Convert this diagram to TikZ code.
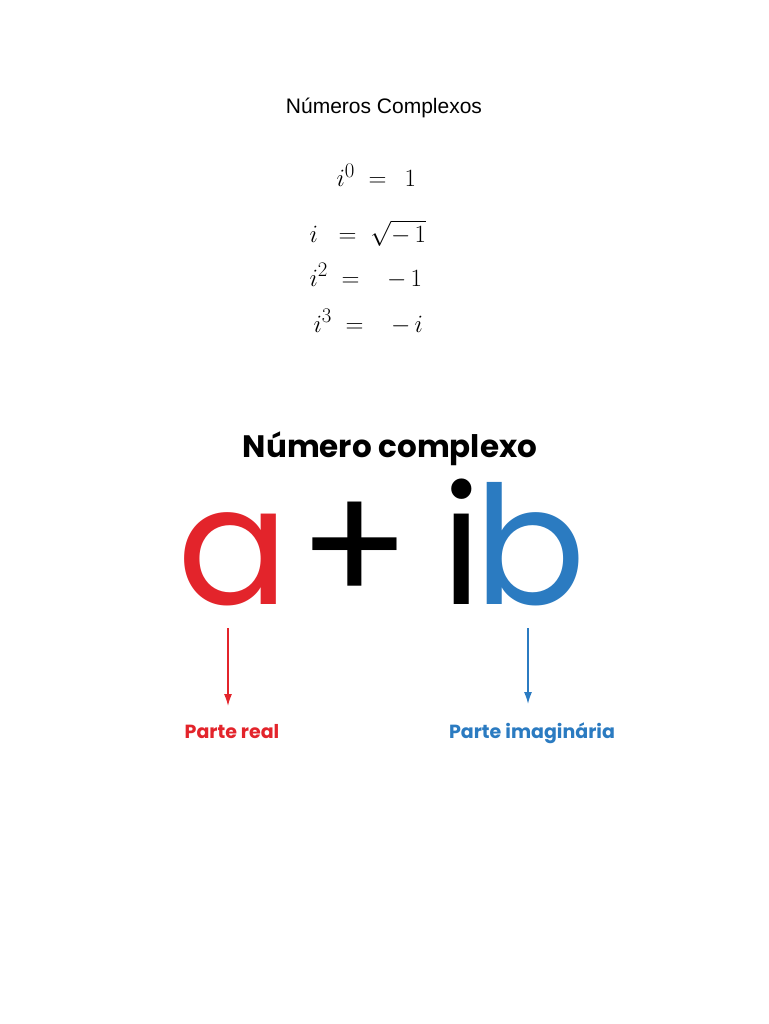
\documentclass[tikz,border=0pt]{standalone}
\usetikzlibrary{arrows.meta}
\usepackage{fontspec}
\setmainfont{Liberation Sans}
\newfontfamily\roundf{Poppins}
\usepackage{amsmath}
\definecolor{cred}{HTML}{E3242B}
\definecolor{cblue}{HTML}{2B7BC1}
\begin{document}
\begin{tikzpicture}[x=1pt,y=-1pt,
  eq/.style={anchor=base west,font=\fontsize{32}{36}\selectfont},
  big/.style={font=\roundf\fontsize{165}{165}\selectfont,anchor=base},
  lab/.style={font=\roundf\bfseries\fontsize{19}{22}\selectfont,anchor=base}]
\useasboundingbox[fill=white] (0,0) rectangle (768,1024);
\node[anchor=base,font=\fontsize{21}{24}\selectfont] (title) at (384,114) {Números Complexos};
\node[eq] (e0) at (333,187) {$i^{0}\;=\;\,1$};
\node[eq] (e1) at (306,242) {$i\;\;=\;\sqrt{-\,1}$};
\node[eq] (e2) at (306,286) {$i^{2}\;=\;\;\;-\,1$};
\node[eq] (e3) at (310,332) {$i^{3}\;=\;\;\;-\,i$};
\node[anchor=base,font=\roundf\bfseries\fontsize{31}{34}\selectfont] (head) at (390,457) {Número complexo};
\node[big,text=cred] (a) at (233,604) {a};
\node[big] (plus) at (355,604) {+};
\node[big] (i) at (462,604) {i};
\node[big,text=cblue] (b) at (530,604) {b};
\coordinate (ra) at (228,628);
\coordinate (rb) at (528,628);
\node[lab,text=cred] (pr) at (232,738) {Parte real};
\node[lab,text=cblue] (pi) at (532,738) {Parte imaginária};
\draw[cred,line width=1.5pt,-{Latex[length=12pt,width=8pt]}] (ra) -- (228,706);
\draw[cblue,line width=1.5pt,-{Latex[length=12pt,width=8pt]}] (rb) -- (528,704);
\end{tikzpicture}
\end{document}
